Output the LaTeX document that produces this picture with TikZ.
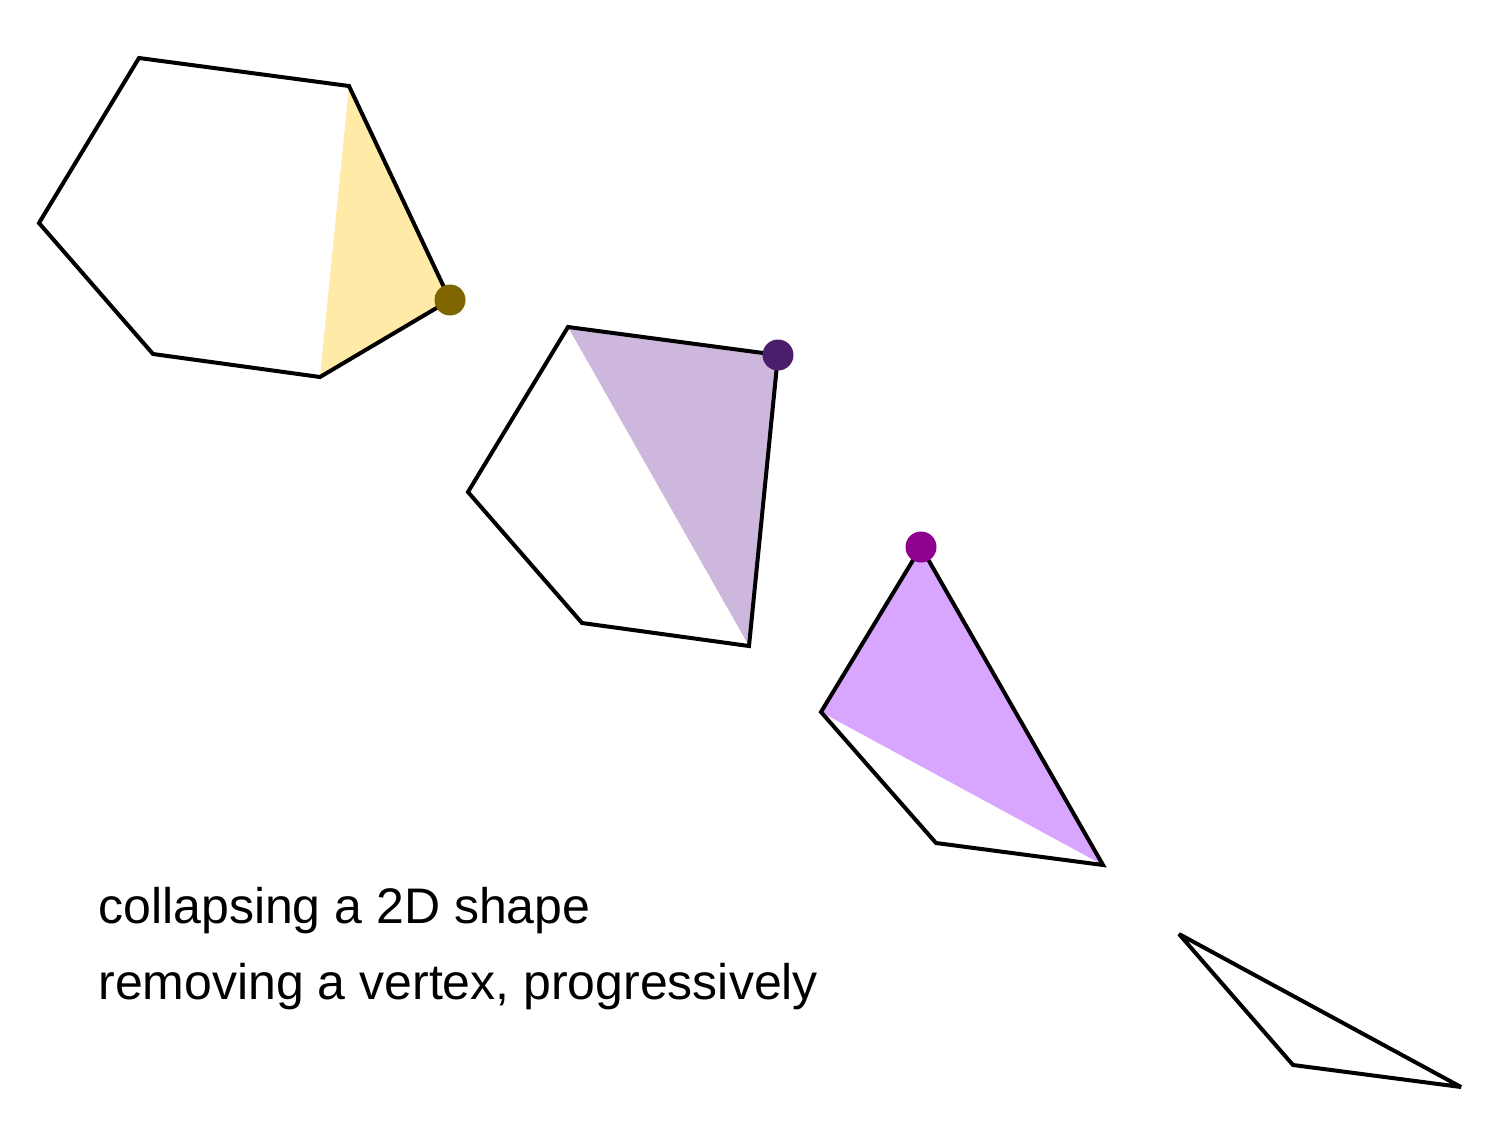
\documentclass[tikz,border=0pt]{standalone}
\usepackage{fontspec}
\setmainfont{Liberation Sans}
\definecolor{yfill}{HTML}{FFEAA8}
\definecolor{ydot}{HTML}{806600}
\definecolor{pfill}{HTML}{CDB7DD}
\definecolor{pdot}{HTML}{4B1E6B}
\definecolor{mfill}{HTML}{D9A6FF}
\definecolor{mdot}{HTML}{8E008E}
\begin{document}
\begin{tikzpicture}[x=0.5pt,y=-0.5pt,
  outline/.style={draw=black,line width=2pt,line join=miter,miter limit=4},
  vdot/.style={circle,inner sep=0pt,minimum size=15.5pt},
  caption/.style={anchor=base west,inner sep=0pt,font=\fontsize{25pt}{30pt}\selectfont}]
\useasboundingbox (0,0) rectangle (1500,1125);
% shape 1
\fill[yfill] (349,86) -- (450,300) -- (320,377) -- cycle;
\draw[outline] (139,58) -- (349,86) -- (450,300) -- (320,377) -- (153,354) -- (39,223) -- cycle;
\node[vdot,fill=ydot] (d1) at (450,300) {};
% shape 2
\fill[pfill] (568,327) -- (778,355) -- (749,646) -- cycle;
\draw[outline] (568,327) -- (778,355) -- (749,646) -- (582,623) -- (468,492) -- cycle;
\node[vdot,fill=pdot] (d2) at (778,355) {};
% shape 3
\fill[mfill] (921,547) -- (1103,865) -- (821,712) -- cycle;
\draw[outline] (921,547) -- (1103,865) -- (936,843) -- (821,712) -- cycle;
\node[vdot,fill=mdot] (d3) at (921,547) {};
% shape 4
\draw[outline] (1179,934) -- (1461,1087) -- (1293,1065) -- cycle;
% captions
\node[caption] (t1) at (98,923) {collapsing a 2D shape};
\node[caption] (t2) at (98,999) {removing a vertex, progressively};
\end{tikzpicture}
\end{document}
